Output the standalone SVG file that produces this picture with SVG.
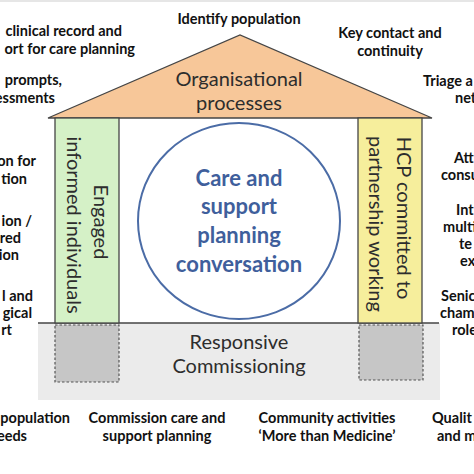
<svg xmlns="http://www.w3.org/2000/svg" width="474" height="474" viewBox="0 0 474 474">
<style>
.lbl{font-family:Lato,"Liberation Sans",sans-serif;font-weight:bold;font-size:14.5px;fill:#111}
.mid{text-anchor:middle}
.end{text-anchor:end}
.big{font-family:Lato,"Liberation Sans",sans-serif;font-size:20px;fill:#2d2d2d;text-anchor:middle}
.care{font-family:Lato,"Liberation Sans",sans-serif;font-weight:bold;font-size:22px;fill:#3F5F9C;text-anchor:middle}
.edge{stroke:#454545;stroke-width:1.3}
</style>
<rect x="0" y="0" width="474" height="474" fill="#fff"/>
<rect x="0" y="0" width="474" height="2" fill="#e6e6e6"/>

<g id="base">
  <rect x="38" y="323" width="402" height="77" fill="#EBEBEB"/>
  <rect x="55" y="325" width="64" height="57" fill="#C6C6C6" stroke="#555" stroke-width="1.2" stroke-dasharray="2.5,2"/>
  <rect x="359" y="325" width="64" height="55" fill="#C6C6C6" stroke="#555" stroke-width="1.2" stroke-dasharray="2.5,2"/>
  <line x1="38" y1="323" x2="439" y2="323" class="edge"/>
  <text class="big" x="239" y="349">Responsive</text>
  <text class="big" x="239" y="373">Commissioning</text>
</g>

<g id="roof">
  <polygon points="48,118 240,35 432,118" fill="#F7C799" class="edge"/>
  <text class="big" x="239" y="86">Organisational</text>
  <text class="big" x="239" y="110">processes</text>
</g>

<g id="col-left">
  <rect x="55" y="118" width="64" height="205" fill="#D5F1C7" class="edge"/>
  <text class="big" transform="translate(94,222) rotate(90)">Engaged</text>
  <text class="big" transform="translate(67,225) rotate(90)">informed individuals</text>
</g>

<g id="col-right">
  <rect x="358" y="118" width="64" height="205" fill="#F6EE9C" class="edge"/>
  <text class="big" transform="translate(397,218) rotate(90)">HCP committed to</text>
  <text class="big" transform="translate(369,224) rotate(90)">partnership working</text>
</g>

<g id="centre">
  <ellipse cx="239" cy="221" rx="101" ry="98" fill="#fff" stroke="#4B6CA6" stroke-width="2"/>
  <text class="care" x="239" y="186">Care and</text>
  <text class="care" x="239" y="214">support</text>
  <text class="care" x="239" y="243">planning</text>
  <text class="care" x="239" y="272">conversation</text>
</g>

<g id="labels">
  <text class="lbl mid" x="239" y="24">Identify population</text>
  <text class="lbl end" x="122" y="36">clinical record and</text>
  <text class="lbl end" x="135" y="54">ort for care planning</text>
  <text class="lbl end" x="62" y="85">prompts,</text>
  <text class="lbl end" x="55" y="103">essments</text>
  <text class="lbl end" x="36" y="166">on for</text>
  <text class="lbl end" x="27" y="184">tion</text>
  <text class="lbl end" x="32" y="226">ion /</text>
  <text class="lbl end" x="21" y="243">red</text>
  <text class="lbl end" x="19" y="260">ion</text>
  <text class="lbl end" x="33" y="301">l and</text>
  <text class="lbl end" x="32" y="318">gical</text>
  <text class="lbl end" x="12" y="335">rt</text>

  <text class="lbl mid" x="390" y="38">Key contact and</text>
  <text class="lbl mid" x="390" y="56">continuity</text>
  <text class="lbl" x="423" y="86">Triage a</text>
  <text class="lbl" x="455" y="103">net</text>
  <text class="lbl" x="454" y="163">Att</text>
  <text class="lbl" x="441" y="180">consul</text>
  <text class="lbl" x="456" y="215">Int</text>
  <text class="lbl" x="443" y="232">multi-</text>
  <text class="lbl" x="459" y="249">te</text>
  <text class="lbl" x="460" y="266">ex</text>
  <text class="lbl" x="441" y="301">Senic</text>
  <text class="lbl" x="440" y="318">cham</text>
  <text class="lbl" x="452" y="335">role</text>

  <text class="lbl end" x="70" y="423">population</text>
  <text class="lbl end" x="27" y="441">eeds</text>
  <text class="lbl mid" x="157" y="423">Commission care and</text>
  <text class="lbl mid" x="157" y="441">support  planning</text>
  <text class="lbl mid" x="327" y="423">Community activities</text>
  <text class="lbl mid" x="327" y="441">‘More than Medicine’</text>
  <text class="lbl" x="432" y="423">Qualit</text>
  <text class="lbl" x="437" y="441">and m</text>
</g>
</svg>
